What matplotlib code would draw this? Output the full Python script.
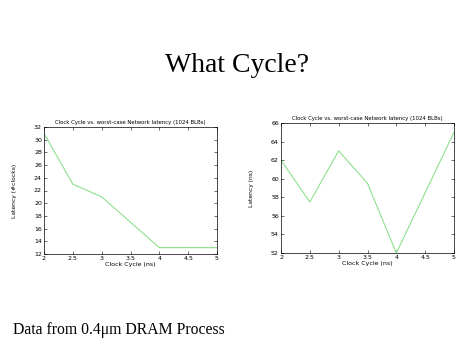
import matplotlib
matplotlib.use("Agg")
import matplotlib.pyplot as plt

clock = [2, 2.5, 3, 3.5, 4, 4.5, 5]
lat_clocks = [31, 23, 21, 17, 13, 13, 13]
lat_ns = [62, 57.5, 63, 59.5, 52, 58.5, 65]

title_txt = 'Clock Cycle vs. worst-case Network latency (1024 BLBs)'
green = '#8ee08e'

fig = plt.figure(figsize=(4.74, 3.55), dpi=100)
fig.patch.set_facecolor('white')

fig.text(0.5, 0.815, 'What Cycle?', ha='center', va='center',
         family='Liberation Serif', fontsize=20)
fig.text(0.027, 0.07, 'Data from 0.4\u03bcm DRAM Process', ha='left', va='center',
         family='Liberation Serif', fontsize=11.3)

W, H = 474, 355
def add_ax(x0, x1, ytop, ybot):
    return fig.add_axes([x0 / W, 1 - ybot / H, (x1 - x0) / W, (ybot - ytop) / H])

ax1 = add_ax(44, 217, 127, 254)
ax1.plot(clock, lat_clocks, color=green, lw=0.8)
ax1.set_xlim(2, 5)
ax1.set_ylim(12, 32)
ax1.set_yticks(range(12, 33, 2))
ax1.set_ylabel('Latency (#clocks)', fontsize=4.3, labelpad=12)

ax2 = add_ax(281, 454, 123, 253)
ax2.plot(clock, lat_ns, color=green, lw=0.8)
ax2.set_xlim(2, 5)
ax2.set_ylim(52, 66)
ax2.set_yticks(range(52, 67, 2))
ax2.set_ylabel('Latency (ns)', fontsize=4.3, labelpad=12)

for ax in (ax1, ax2):
    ax.set_xticks([2, 2.5, 3, 3.5, 4, 4.5, 5])
    ax.set_xticklabels(['2', '2.5', '3', '3.5', '4', '4.5', '5'])
    ax.set_title(title_txt, fontsize=3.9, pad=2.5)
    ax.set_xlabel('Clock Cycle (ns)', fontsize=4.5, labelpad=0.5)
    ax.tick_params(direction='in', top=True, right=True, labelsize=4.5,
                   length=2, width=0.4, pad=1.5)
    for s in ax.spines.values():
        s.set_linewidth(0.5)

fig.savefig('out.png', dpi=100)
